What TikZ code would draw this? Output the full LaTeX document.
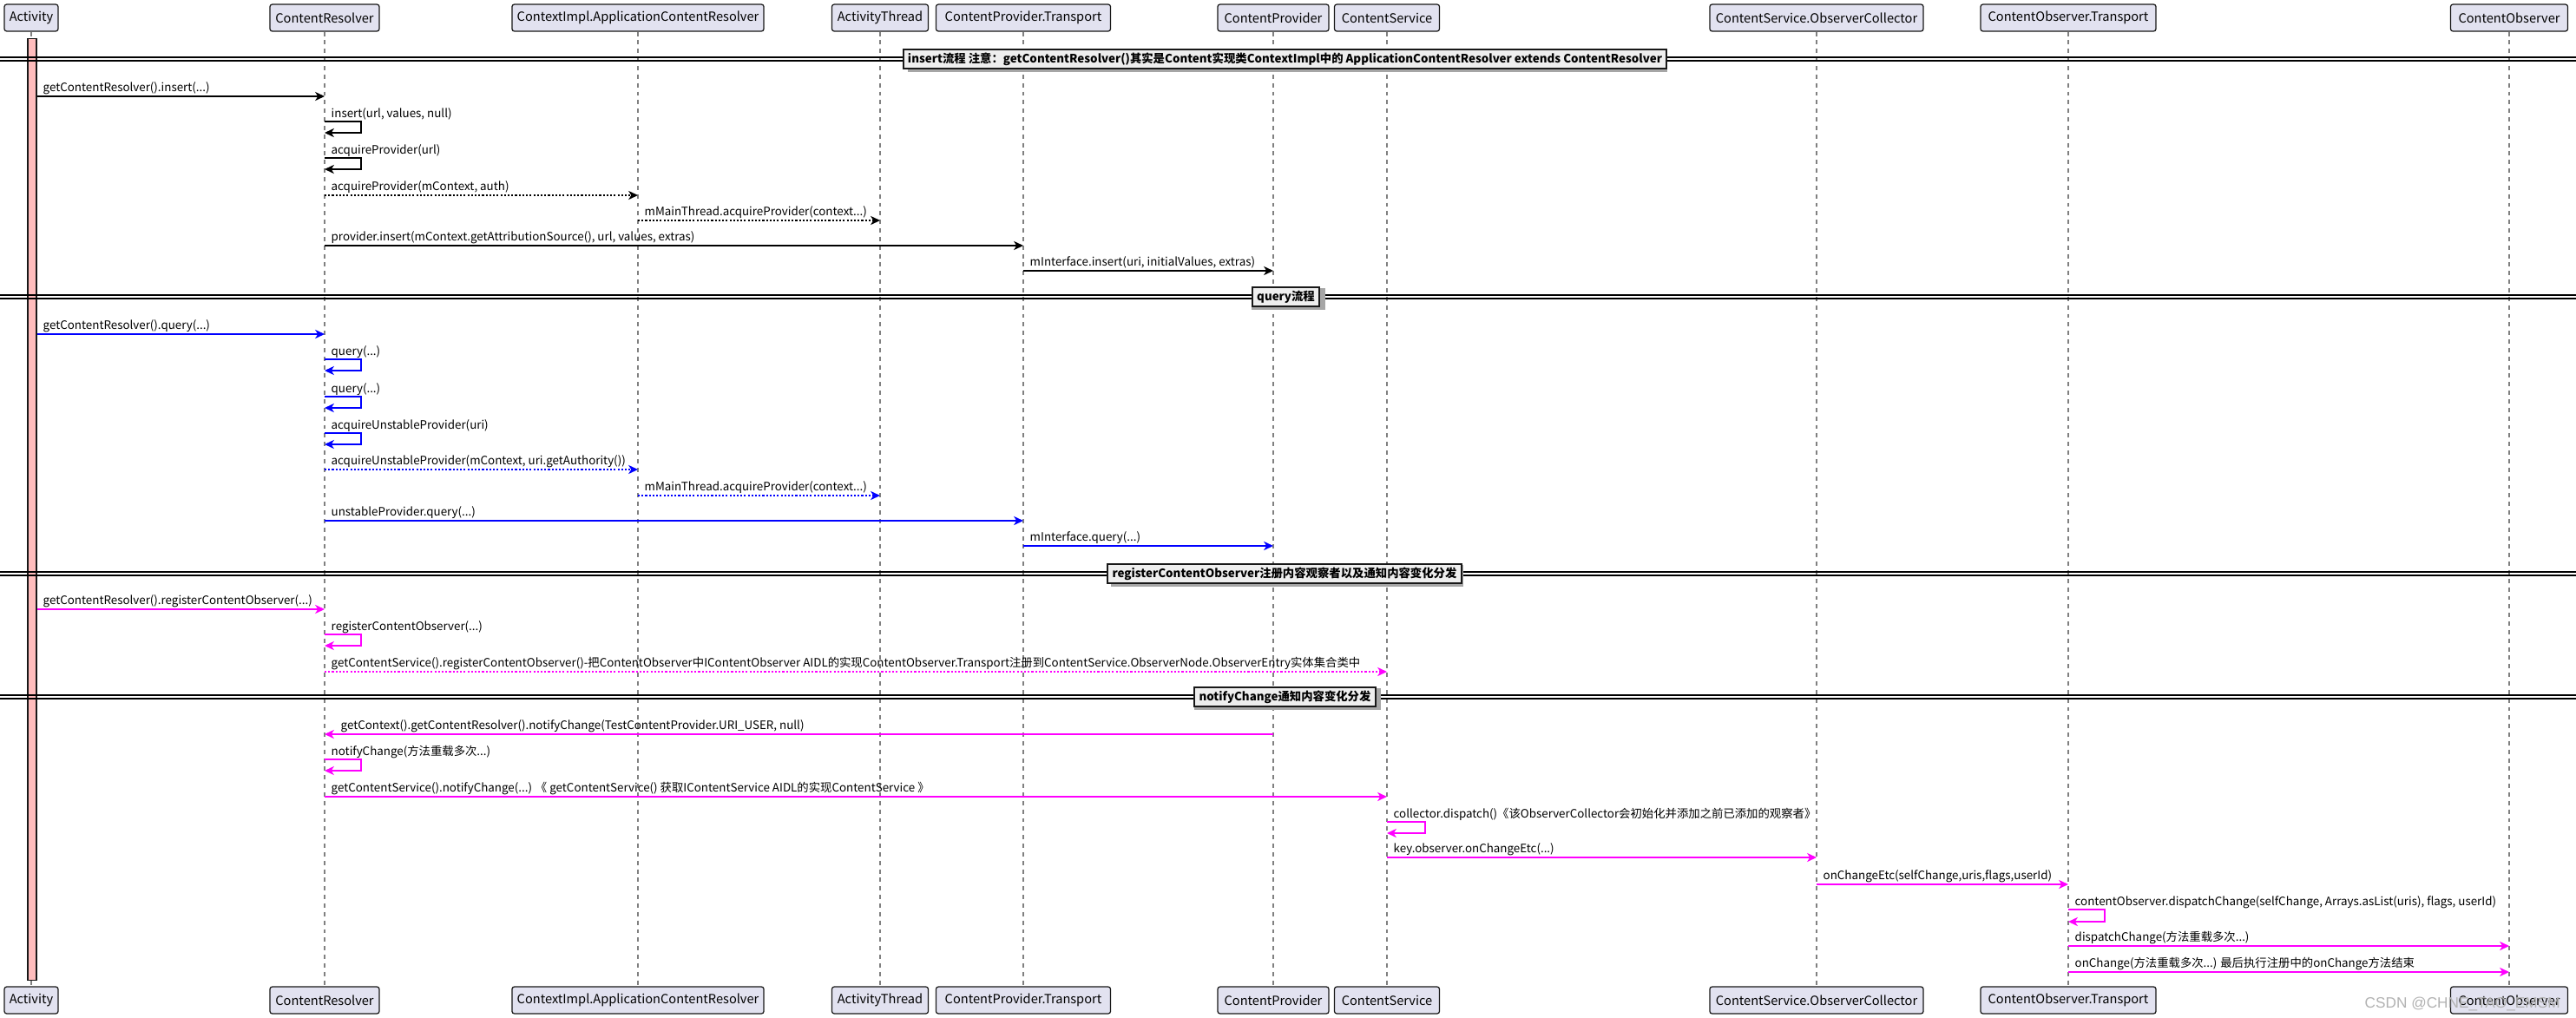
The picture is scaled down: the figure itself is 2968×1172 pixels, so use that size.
\documentclass[tikz,border=0pt]{standalone}
\usepackage{fontspec}
\setmainfont{Noto Sans CJK SC}
\newfontfamily\wmfont{Liberation Sans}
\usetikzlibrary{arrows.meta}
\definecolor{partfill}{HTML}{E2E2F0}
\definecolor{partdraw}{HTML}{181818}
\definecolor{lifegray}{HTML}{808080}
\definecolor{actfill}{HTML}{FFBDBD}
\definecolor{divfill}{HTML}{EEEEEE}
\definecolor{mag}{HTML}{FF00FF}
\definecolor{blu}{HTML}{0000FF}
\begin{document}
\begin{tikzpicture}[x=0.01cm,y=-0.01cm,
  part/.style={draw=partdraw, fill=partfill, line width=0.35pt, rounded corners=0.8pt, inner sep=0pt, minimum height=0.31cm, font=\fontsize{4.15}{5}\selectfont},
  life/.style={draw=lifegray, line width=0.3pt, dash pattern=on 1.4pt off 1.4pt},
  msg/.style={line width=0.45pt, -{Stealth[length=3.1pt,width=2.9pt,inset=0.9pt]}},
  ret/.style={msg, dash pattern=on 0.6pt off 0.6pt},
  lbl/.style={anchor=base west, inner sep=0pt, font=\fontsize{3.8}{4.5}\selectfont},
  divbox/.style={draw=partdraw, fill=divfill, line width=0.5pt, inner xsep=1.5pt, inner ysep=0pt, minimum height=0.22cm, font=\bfseries\fontsize{3.8}{4.5}\selectfont},
  divline/.style={line width=0.55pt}
]
\useasboundingbox (0,0) rectangle (2968,1172);
\fill[white] (0,0) rectangle (2968,1172);

% participants top
\node[part, minimum width=0.62cm] (actT) at (36,20.5) {Activity};
\node[part, minimum width=1.26cm] (resT) at (374,20.5) {ContentResolver};
\node[part, minimum width=2.90cm] (ctxT) at (735,20.5) {ContextImpl.ApplicationContentResolver};
\node[part, minimum width=1.11cm] (atT) at (1014,20.5) {ActivityThread};
\node[part, minimum width=2.01cm] (cptT) at (1179,20.5) {ContentProvider.Transport};
\node[part, minimum width=1.28cm] (cpT) at (1467,20.5) {ContentProvider};
\node[part, minimum width=1.21cm] (csT) at (1598,20.5) {ContentService};
\node[part, minimum width=2.46cm] (ocT) at (2093,20.5) {ContentService.ObserverCollector};
\node[part, minimum width=2.02cm] (cotT) at (2383,20.5) {ContentObserver.Transport};
\node[part, minimum width=1.35cm] (coT) at (2891,20.5) {ContentObserver};
% participants bottom
\node[part, minimum width=0.62cm] (actB) at (36,1152.5) {Activity};
\node[part, minimum width=1.26cm] (resB) at (374,1152.5) {ContentResolver};
\node[part, minimum width=2.90cm] (ctxB) at (735,1152.5) {ContextImpl.ApplicationContentResolver};
\node[part, minimum width=1.11cm] (atB) at (1014,1152.5) {ActivityThread};
\node[part, minimum width=2.01cm] (cptB) at (1179,1152.5) {ContentProvider.Transport};
\node[part, minimum width=1.28cm] (cpB) at (1467,1152.5) {ContentProvider};
\node[part, minimum width=1.21cm] (csB) at (1598,1152.5) {ContentService};
\node[part, minimum width=2.46cm] (ocB) at (2093,1152.5) {ContentService.ObserverCollector};
\node[part, minimum width=2.02cm] (cotB) at (2383,1152.5) {ContentObserver.Transport};
\node[part, minimum width=1.35cm] (coB) at (2891,1152.5) {ContentObserver};

% lifelines
\foreach \p in {act,res,ctx,at,cpt,cp,cs,oc,cot,co}
  \draw[life] (\p T.south) -- (\p B.north);

% activation bar
\node[draw=partdraw, fill=actfill, line width=0.35pt, minimum width=0.10cm, minimum height=10.84cm, inner sep=0pt] (actbar) at (37,587) {};

% dividers
\foreach \y in {68,342,661,803}{
  \draw[divline] (0,\y-2) -- (2968,\y-2);
  \draw[divline] (0,\y+2) -- (2968,\y+2);
}
\fill[gray!70] (1046,58) rectangle (1921,83);
\node[divbox] (div1) at (1480.5,68) {insert流程 注意：getContentResolver()其实是Content实现类ContextImpl中的 ApplicationContentResolver extends ContentResolver};
\fill[gray!70] (1442,332) rectangle (1527,357);
\node[divbox] (div2) at (1481.5,342) {query流程};
\fill[gray!70] (1280,651) rectangle (1686,676);
\node[divbox] (div3) at (1480,661) {registerContentObserver注册内容观察者以及通知内容变化分发};
\fill[gray!70] (1376,793) rectangle (1591,818);
\node[divbox] (div4) at (1480.5,803) {notifyChange通知内容变化分发};

% ---------- insert (black) ----------
\draw[msg] (actbar.east |- 0,111) -- (resT |- 0,111);
\node[lbl] (l1) at (49,105) {getContentResolver().insert(...)};
\draw[msg] (resT |- 0,140) -- ++(42,0) -- ++(0,13) -- (resT |- 0,153);
\node[lbl] (l2) at (381,135) {insert(url, values, null)};
\draw[msg] (resT |- 0,182) -- ++(42,0) -- ++(0,13) -- (resT |- 0,195);
\node[lbl] (l3) at (381,177) {acquireProvider(url)};
\draw[ret] (resT |- 0,225) -- (ctxT |- 0,225);
\node[lbl] (l4) at (381,219) {acquireProvider(mContext, auth)};
\draw[ret] (ctxT |- 0,254) -- (atT |- 0,254);
\node[lbl] (l5) at (742,248) {mMainThread.acquireProvider(context...)};
\draw[msg] (resT |- 0,283) -- (cptT |- 0,283);
\node[lbl] (l6) at (381,277) {provider.insert(mContext.getAttributionSource(), url, values, extras)};
\draw[msg] (cptT |- 0,312) -- (cpT |- 0,312);
\node[lbl] (l7) at (1186,306) {mInterface.insert(uri, initialValues, extras)};

% ---------- query (blue) ----------
\begin{scope}[blu]
\draw[msg] (actbar.east |- 0,385) -- (resT |- 0,385);
\node[lbl, black] (l8) at (49,379) {getContentResolver().query(...)};
\draw[msg] (resT |- 0,414) -- ++(42,0) -- ++(0,13) -- (resT |- 0,427);
\node[lbl, black] (l9) at (381,409) {query(...)};
\draw[msg] (resT |- 0,457) -- ++(42,0) -- ++(0,13) -- (resT |- 0,470);
\node[lbl, black] (l10) at (381,452) {query(...)};
\draw[msg] (resT |- 0,499) -- ++(42,0) -- ++(0,13) -- (resT |- 0,512);
\node[lbl, black] (l11) at (381,494) {acquireUnstableProvider(uri)};
\draw[ret] (resT |- 0,541) -- (ctxT |- 0,541);
\node[lbl, black] (l12) at (381,535) {acquireUnstableProvider(mContext, uri.getAuthority())};
\draw[ret] (ctxT |- 0,571) -- (atT |- 0,571);
\node[lbl, black] (l13) at (742,565) {mMainThread.acquireProvider(context...)};
\draw[msg] (resT |- 0,600) -- (cptT |- 0,600);
\node[lbl, black] (l14) at (381,594) {unstableProvider.query(...)};
\draw[msg] (cptT |- 0,629) -- (cpT |- 0,629);
\node[lbl, black] (l15) at (1186,623) {mInterface.query(...)};
\end{scope}

% ---------- register / notify (magenta) ----------
\begin{scope}[mag]
\draw[msg] (actbar.east |- 0,702) -- (resT |- 0,702);
\node[lbl, black] (l16) at (49,696) {getContentResolver().registerContentObserver(...)};
\draw[msg] (resT |- 0,731) -- ++(42,0) -- ++(0,13) -- (resT |- 0,744);
\node[lbl, black] (l17) at (381,726) {registerContentObserver(...)};
\draw[ret] (resT |- 0,774) -- (csT |- 0,774);
\node[lbl, black] (l18) at (381,768) {getContentService().registerContentObserver()-把ContentObserver中IContentObserver AIDL的实现ContentObserver.Transport注册到ContentService.ObserverNode.ObserverEntry实体集合类中};

\draw[msg] (cpT |- 0,846) -- (resT |- 0,846);
\node[lbl, black] (l19) at (392,840) {getContext().getContentResolver().notifyChange(TestContentProvider.URI\_USER, null)};
\draw[msg] (resT |- 0,875) -- ++(42,0) -- ++(0,13) -- (resT |- 0,888);
\node[lbl, black] (l20) at (381,870) {notifyChange(方法重载多次...)};
\draw[msg] (resT |- 0,918) -- (csT |- 0,918);
\node[lbl, black] (l21) at (381,912) {getContentService().notifyChange(...) 《 getContentService() 获取IContentService AIDL的实现ContentService 》};
\draw[msg] (csT |- 0,947) -- ++(44,0) -- ++(0,13) -- (csT |- 0,960);
\node[lbl, black] (l22) at (1605,942) {collector.dispatch()《该ObserverCollector会初始化并添加之前已添加的观察者》};
\draw[msg] (csT |- 0,988) -- (ocT |- 0,988);
\node[lbl, black] (l23) at (1605,982) {key.observer.onChangeEtc(...)};
\draw[msg] (ocT |- 0,1019) -- (cotT |- 0,1019);
\node[lbl, black] (l24) at (2100,1013) {onChangeEtc(selfChange,uris,flags,userId)};
\draw[msg] (cotT |- 0,1048) -- ++(42,0) -- ++(0,14) -- (cotT |- 0,1062);
\node[lbl, black] (l25) at (2390,1043) {contentObserver.dispatchChange(selfChange, Arrays.asList(uris), flags, userId)};
\draw[msg] (cotT |- 0,1090) -- (coT |- 0,1090);
\node[lbl, black] (l26) at (2390,1084) {dispatchChange(方法重载多次...)};
\draw[msg] (cotT |- 0,1120) -- (coT |- 0,1120);
\node[lbl, black] (l27) at (2390,1114) {onChange(方法重载多次...) 最后执行注册中的onChange方法结束};
\end{scope}

% watermark
\node[anchor=base west, inner sep=0pt, text=gray!60, font=\wmfont\fontsize{4.9}{5}\selectfont] (wm) at (2724,1161) {CSDN @CHNE\_TAO\_EMSM};
\end{tikzpicture}
\end{document}
